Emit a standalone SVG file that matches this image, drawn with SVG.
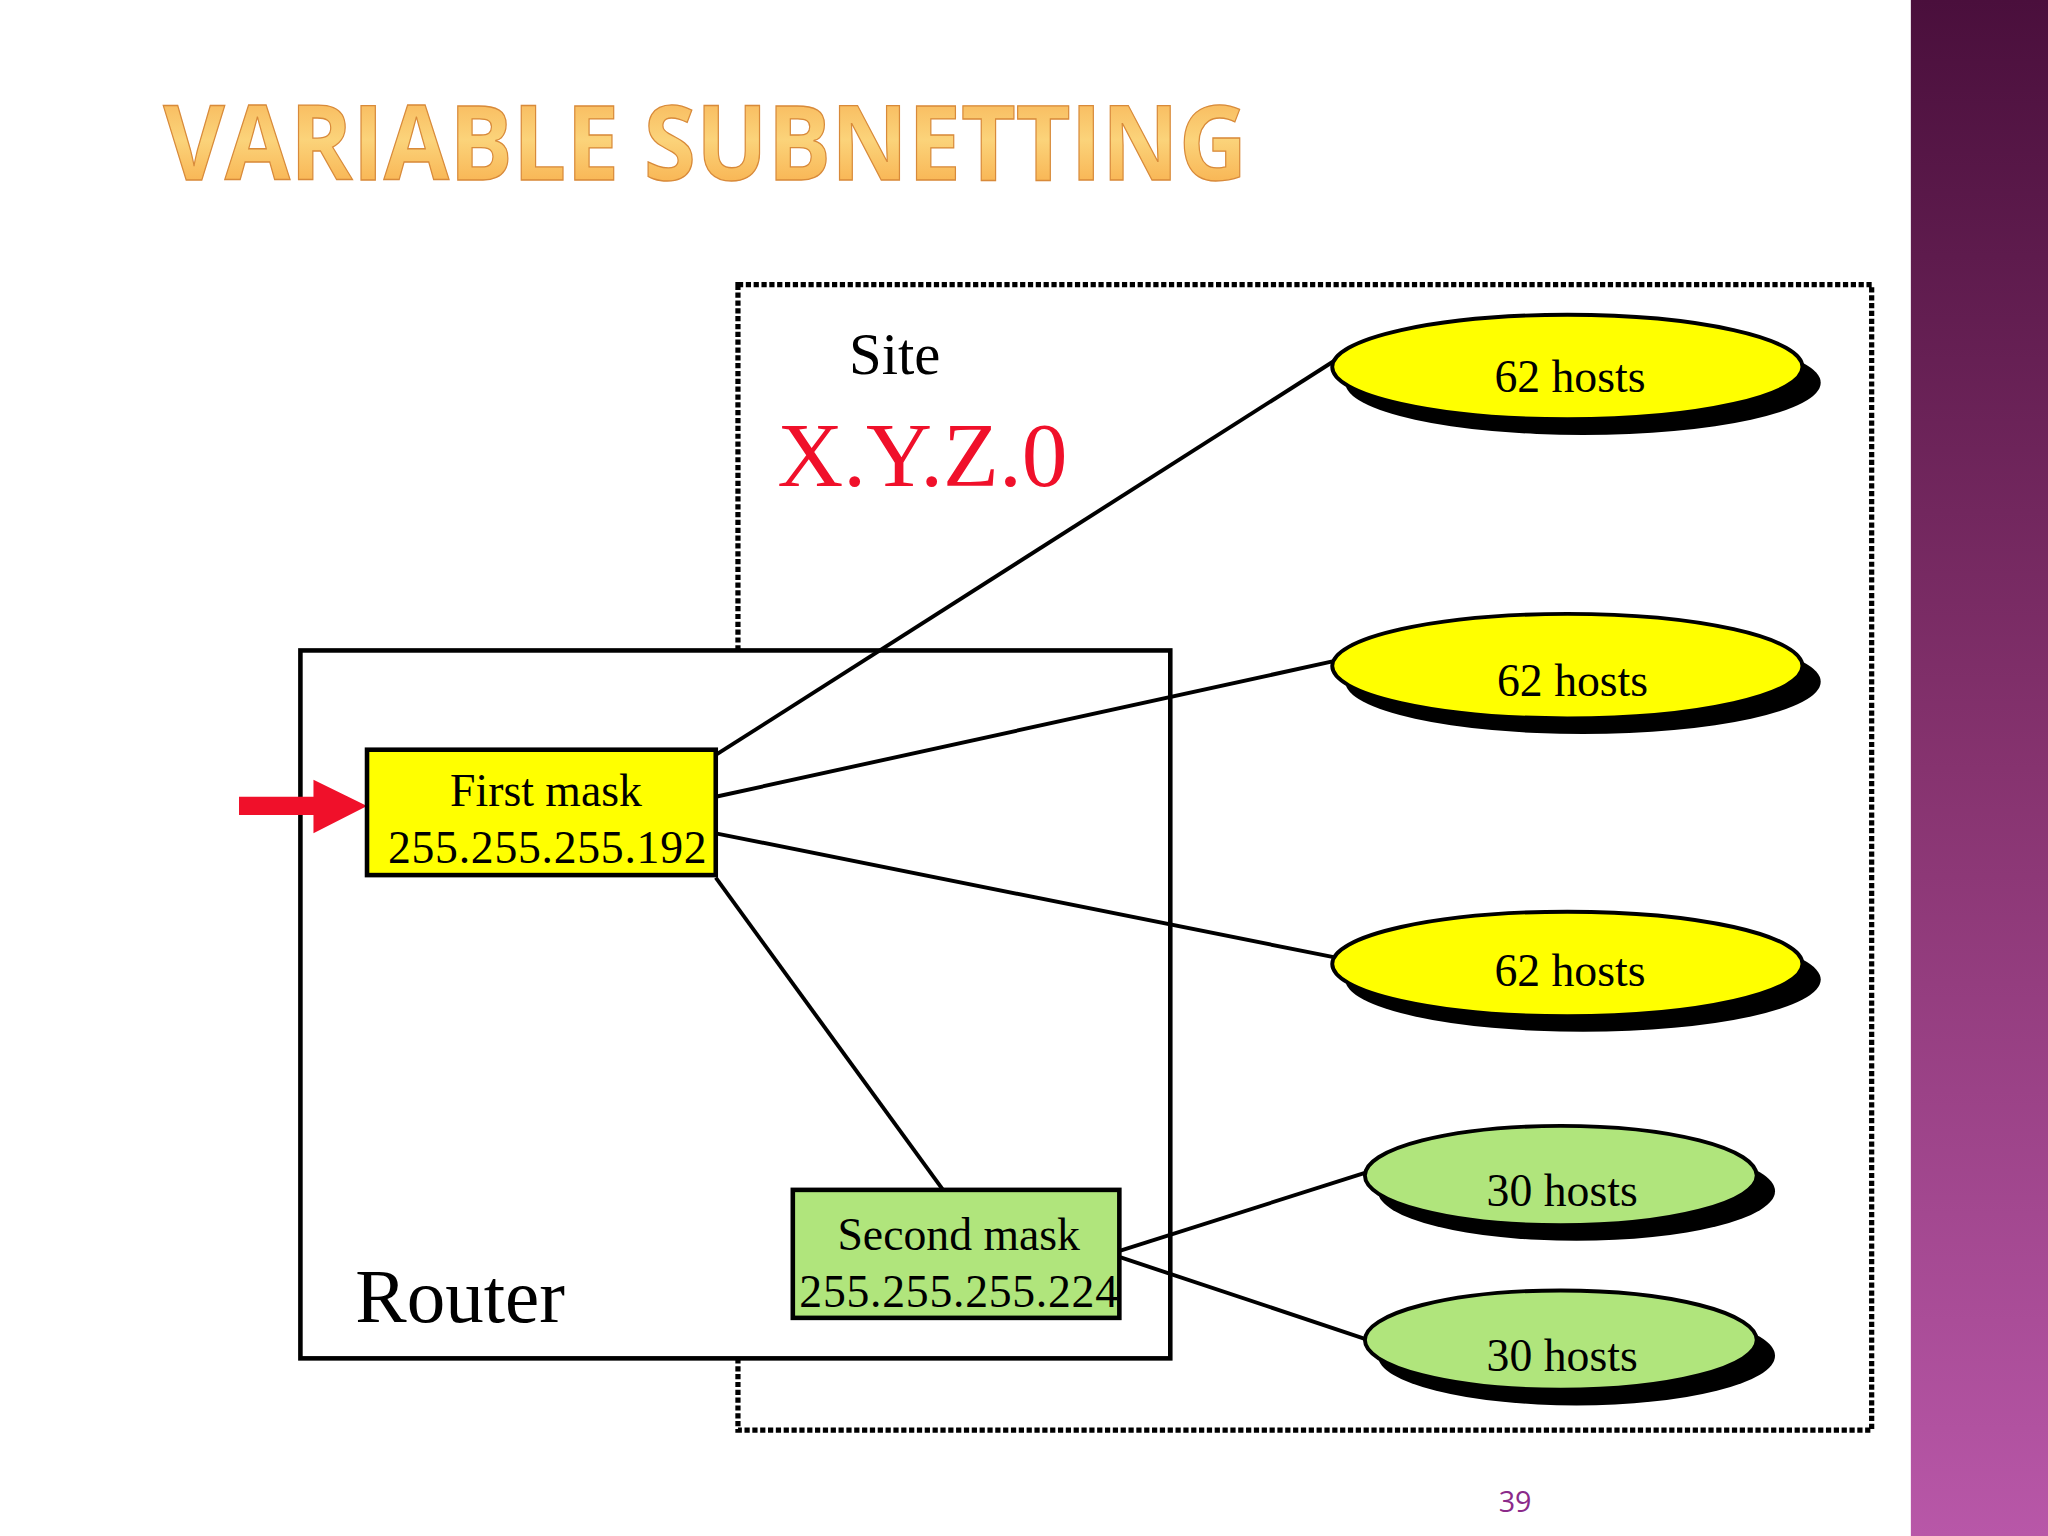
<svg xmlns="http://www.w3.org/2000/svg" width="2048" height="1536" viewBox="0 0 2048 1536">
<defs>
<linearGradient id="bar" x1="0" y1="0" x2="0" y2="1"><stop offset="0" stop-color="#4a0f3c"/><stop offset="0.5" stop-color="#86336f"/><stop offset="1" stop-color="#b857a8"/></linearGradient>
<linearGradient id="tg" x1="0" y1="0" x2="0" y2="1"><stop offset="0" stop-color="#f6a94a"/><stop offset="0.5" stop-color="#fbd37a"/><stop offset="1" stop-color="#f7a23c"/></linearGradient>
<style>
.s{font-family:"Liberation Serif","Times New Roman",serif;fill:#000}
.ln{stroke:#000;stroke-width:3;fill:none}
.box{stroke:#000;stroke-width:3.5}
</style>
</defs>
<rect width="2048" height="1536" fill="#fff"/>
<g transform="scale(1.30612)">
<rect x="1463" y="0" width="105" height="1176" fill="url(#bar)"/>
<text x="125" y="138" font-family="'Open Sans','DejaVu Sans',sans-serif" font-weight="bold" font-size="80" textLength="830" lengthAdjust="spacingAndGlyphs" fill="url(#tg)" stroke="#d88a3a" stroke-width="1">VARIABLE SUBNETTING</text>
<g id="site"><rect x="565" y="218" width="868" height="877" fill="none" stroke="#000" stroke-width="4" stroke-dasharray="4,2"/>
<text class="s" x="650" y="286" font-size="45">Site</text>
<text x="595" y="372" font-family="'Liberation Serif',serif" font-size="70" fill="#f0102a">X.Y.Z.0</text></g>
<g id="router"><rect x="230" y="498" width="666" height="542" fill="#fff" class="box"/>
<text class="s" x="272" y="1012" font-size="59">Router</text></g>
<g id="connectors" class="ln">
<line x1="548" y1="578" x2="1022" y2="276"/>
<line x1="548" y1="610" x2="1022" y2="506"/>
<line x1="548" y1="638" x2="1022" y2="733"/>
<line x1="548" y1="672" x2="722" y2="911"/>
<line x1="850" y1="960" x2="1045" y2="898"/>
<line x1="850" y1="960" x2="1045" y2="1025"/>
<polygon points="183,610 240,610 240,597 281,617 240,638 240,624 183,624" fill="#f0102a" stroke="none"/>
</g>
<g id="first"><rect x="281" y="574" width="267" height="96" fill="#ffff00" class="box"/>
<text class="s" x="418" y="617" font-size="35" text-anchor="middle">First mask</text>
<text class="s" x="419" y="661" font-size="35" text-anchor="middle" textLength="244">255.255.255.192</text></g>
<g id="second"><rect x="607" y="911" width="250" height="98" fill="#b0e57c" class="box"/>
<text class="s" x="734" y="957" font-size="35" text-anchor="middle">Second mask</text>
<text class="s" x="734" y="1001" font-size="35" text-anchor="middle" textLength="244">255.255.255.224</text></g>
<g id="h1"><ellipse cx="1212" cy="293" rx="182" ry="40"/><ellipse cx="1200" cy="281" rx="180" ry="40" fill="#ffff00" stroke="#000" stroke-width="3"/><text class="s" x="1202" y="300" font-size="35" text-anchor="middle">62 hosts</text></g>
<g id="h2"><ellipse cx="1212" cy="522" rx="182" ry="40"/><ellipse cx="1200" cy="510" rx="180" ry="40" fill="#ffff00" stroke="#000" stroke-width="3"/><text class="s" x="1204" y="533" font-size="35" text-anchor="middle">62 hosts</text></g>
<g id="h3"><ellipse cx="1212" cy="750" rx="182" ry="40"/><ellipse cx="1200" cy="738" rx="180" ry="40" fill="#ffff00" stroke="#000" stroke-width="3"/><text class="s" x="1202" y="755" font-size="35" text-anchor="middle">62 hosts</text></g>
<g id="h4"><ellipse cx="1207" cy="912" rx="152" ry="38"/><ellipse cx="1195" cy="900" rx="150" ry="38" fill="#b0e57c" stroke="#000" stroke-width="3"/><text class="s" x="1196" y="923" font-size="35" text-anchor="middle">30 hosts</text></g>
<g id="h5"><ellipse cx="1207" cy="1038" rx="152" ry="38"/><ellipse cx="1195" cy="1026" rx="150" ry="38" fill="#b0e57c" stroke="#000" stroke-width="3"/><text class="s" x="1196" y="1050" font-size="35" text-anchor="middle">30 hosts</text></g>
<text x="1160" y="1158" font-family="'Open Sans',sans-serif" font-size="22" fill="#8b2a8a" text-anchor="middle">39</text>
</g>
</svg>
